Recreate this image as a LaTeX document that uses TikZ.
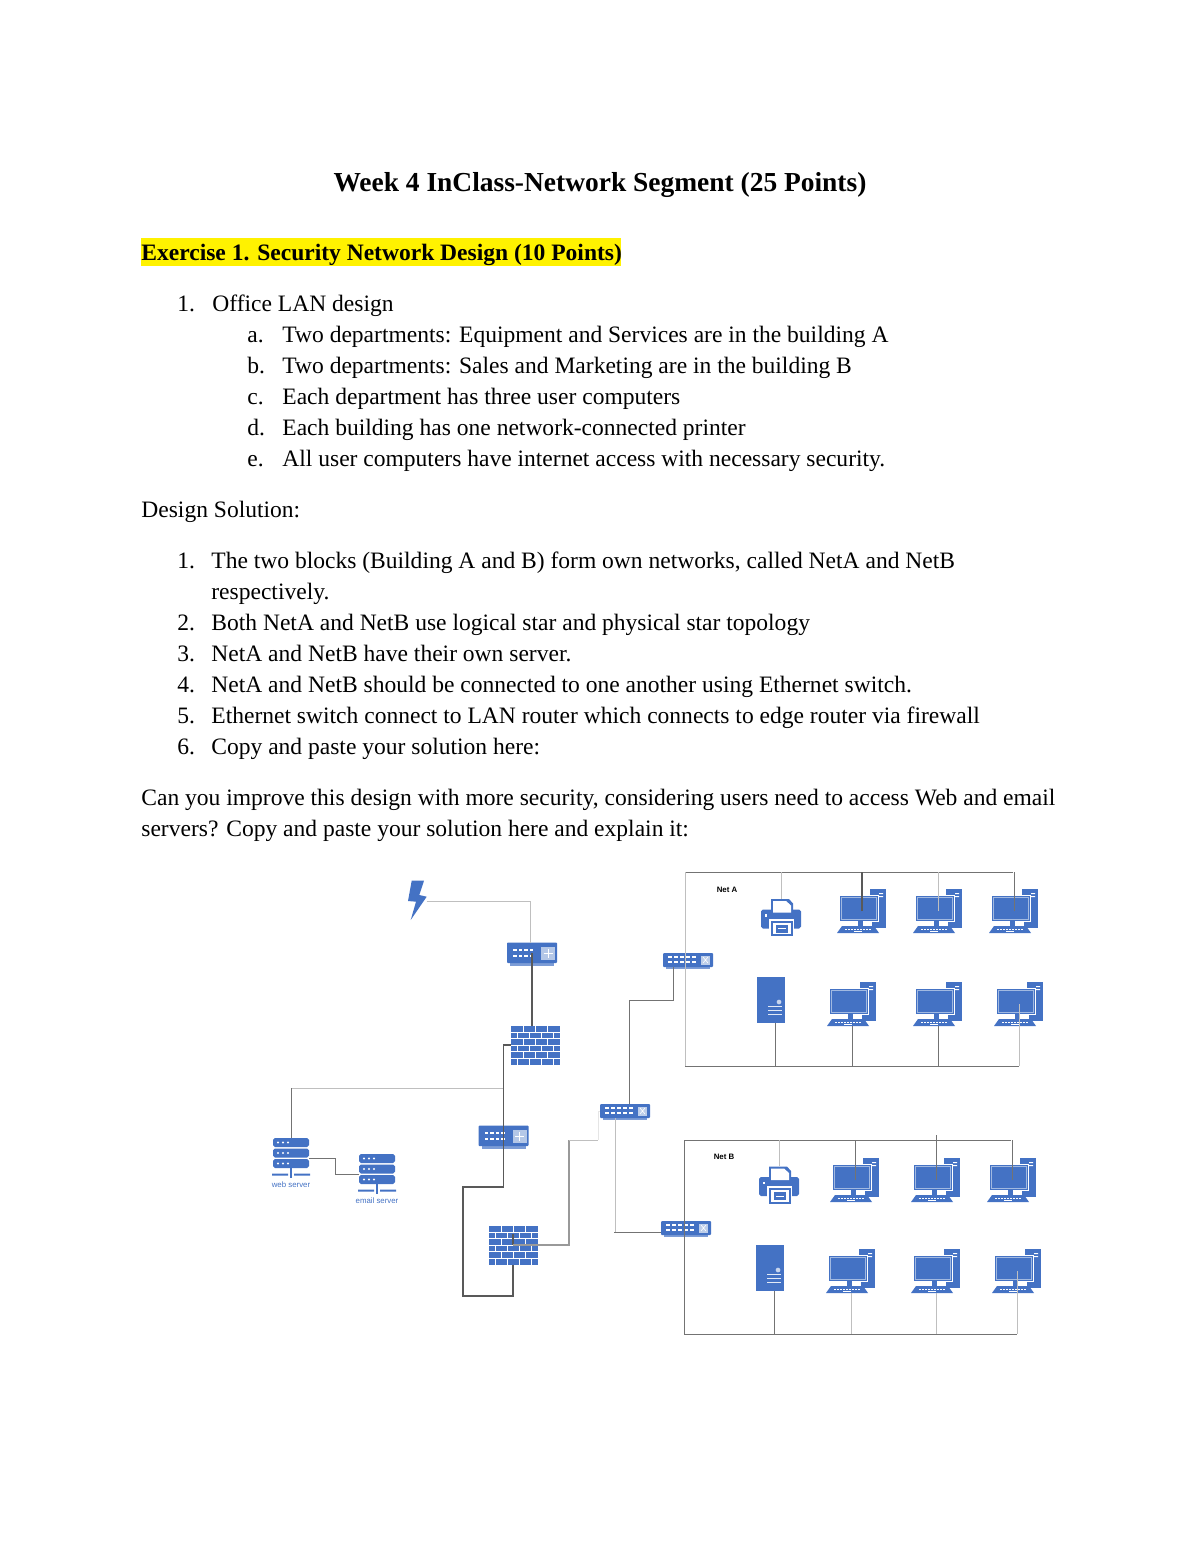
\documentclass[tikz,border=0pt]{standalone}
\usepackage{fontspec}
\setmainfont{Liberation Serif}
\setsansfont{Liberation Sans}
\definecolor{netblue}{HTML}{4472C4}
\tikzset{
  bodyline/.style={anchor=base west,inner sep=0pt,font=\fontsize{12}{14}\selectfont},
  tinylabel/.style={inner sep=0pt,font=\sffamily\fontsize{4}{5}\selectfont},
  wire/.style={draw=black!55,line width=.5pt},
  wirelight/.style={draw=black!25,line width=.5pt},
  wiredark/.style={draw=black!65,line width=.6pt},
  wirethick/.style={draw=black!40,line width=.9pt},
  iconbox/.style={inner sep=0pt,outer sep=0pt},
  pcicon/.pic={
    \node[iconbox,minimum width=25pt,minimum height=22.4pt] (-box) at (0,0) {};
    \fill[netblue] (8,-22) rectangle (24,17);
    \fill[white] (17,-18) rectangle (21,-17) (17,-15) rectangle (21,-14);
    \fill[netblue,draw=white,line width=.3pt] (-23,-16) rectangle (16,10);
    \draw[netblue!50!white,line width=.25pt] (-21,-14) rectangle (14,8);
    \fill[white] (-9,10.5) rectangle (10,15);
    \fill[netblue] (-4,10) rectangle (1,15);
    \fill[netblue] (-20,15) -- (12,15) -- (17,22) -- (-25,22) -- cycle;
    \foreach \x in {-17,-14,...,7}{\fill[white] (\x,18) rectangle (\x+2,19);}
    \fill[white] (-8,20) rectangle (0,20.7);
  },
  printericon/.pic={
    \node[iconbox,minimum width=20.4pt,minimum height=18.9pt] (-box) at (0,0) {};
    \fill[netblue,rounded corners=1pt] (-20,-8) rectangle (20,11);
    \fill[netblue] (-10,-18.5) -- (8,-18.5) -- (12,-14) -- (12,-6) -- (-10,-6) -- cycle;
    \fill[white] (-8,-16.5) -- (5,-16.5) -- (10,-12) -- (10,-5) -- (-8,-5) -- cycle;
    \fill[white] (-16.5,-3.5) rectangle (-14,-1);
    \fill[white] (-12,1) rectangle (13,18.5);
    \fill[netblue] (-10,3) rectangle (12,18.5);
    \fill[white] (-8,5) rectangle (10,16.5);
    \fill[netblue] (-5,7) rectangle (7,15);
    \fill[white] (-3,10.5) rectangle (5,11.5);
  },
  towericon/.pic={
    \node[iconbox,minimum width=14.3pt,minimum height=23.5pt] (-box) at (0,0) {};
    \fill[netblue] (-14,-23) rectangle (14,23);
    \fill[white!70!netblue] (8,2) circle (1.2pt);
    \foreach \y in {6,10,14}{\fill[white!85!netblue] (-3,\y) rectangle (11,\y+1);}
  },
  switchicon/.pic={
    \node[iconbox,minimum width=25.5pt,minimum height=7.4pt] (-box) at (0,0) {};
    \fill[netblue!70!white] (-22,7) rectangle (22,9);
    \fill[netblue,rounded corners=.5pt] (-25,-7) rectangle (25,7);
    \foreach \x in {-20,-14,...,4}{
      \fill[white] (\x,-4) rectangle (\x+3.6,-2);
      \fill[white] (\x,1) rectangle (\x+3.6,3);
    }
    \fill[netblue!35!white] (13,-4.5) rectangle (22,4.5);
    \draw[white,line width=.3pt] (15,-3) -- (20,3) (15,3) -- (20,-3);
  },
  routericon/.pic={
    \node[iconbox,minimum width=25.5pt,minimum height=10.7pt] (-box) at (0,0) {};
    \fill[netblue!70!white] (-22,10) rectangle (22,12.5);
    \fill[netblue,rounded corners=.5pt] (-25,-10.5) rectangle (25,10);
    \foreach \x in {-19,-13.5,-8,-2.5}{
      \fill[white] (\x,-4) rectangle (\x+3.6,-2);
      \fill[white] (\x,1.5) rectangle (\x+3.6,3.5);
    }
    \fill[netblue!40!white] (9,-6.5) rectangle (23,6.5);
    \draw[white,line width=.4pt] (16,-4.5) -- (16,4.5) (11.5,0) -- (20.5,0);
  },
  wallicon/.pic={
    \node[iconbox,minimum width=25pt,minimum height=19.9pt] (-box) at (0,0) {};
    \fill[netblue] (-24.5,-19.5) rectangle (24.5,19.5);
    \foreach \y in {-13,-6.5,0,6.5,13}{\draw[white,line width=.3pt] (-24.5,\y) -- (24.5,\y);}
    \foreach \y in {-19.5,-6.5,6.5}{
      \foreach \x in {-12,0,12}{\draw[white,line width=.3pt] (\x,\y) -- (\x,\y+6.5);}
    }
    \foreach \y in {-13,0,13}{
      \foreach \x in {-18,-6,6,18}{\draw[white,line width=.3pt] (\x,\y) -- (\x,\y+6.5);}
    }
  },
  rackicon/.pic={
    \node[iconbox,minimum width=18.4pt,minimum height=20.4pt] (-box) at (0,0) {};
    \foreach \y in {-20,-9.5,1}{
      \fill[netblue,rounded corners=1pt] (-18,\y) rectangle (18,\y+9);
      \foreach \x in {-13,-8,-3}{\fill[white] (\x,\y+4.5) circle (.55pt);}
    }
    \fill[netblue] (-1,10) rectangle (1,20);
    \fill[netblue] (-19,15.5) rectangle (-3,17.5) (3,15.5) rectangle (19,17.5);
  },
  bolticon/.pic={
    \node[iconbox,minimum width=9.7pt,minimum height=20pt] (-box) at (0,0) {};
    \fill[netblue] (-5.3,-20.3) -- (7,-20.3) -- (2.3,-6) -- (9.7,-4.3) -- (-6.3,19) -- (-1,.7) -- (-9,0) -- cycle;
  },
}
\begin{document}
\begin{tikzpicture}[x=.51pt,y=-.51pt]
\useasboundingbox (0,0) rectangle (1200,1553);
% page text
\node[inner sep=0pt,anchor=base,font=\bfseries\fontsize{14}{16}\selectfont] (title) at (600,192) {Week 4 InClass-Network Segment (25 Points)};
\fill[yellow] (141,238) rectangle (621,266);
\node[bodyline,font=\bfseries\fontsize{12}{14}\selectfont] (exercise) at (141,260) {Exercise 1. Security Network Design (10 Points)};
\node[bodyline] (numOffice) at (177,311) {1.};
\node[bodyline] (office) at (212,311) {Office LAN design};
\foreach \nm/\y/\txt in {a/342/{Two departments: Equipment and Services are in the building A},
    b/373/{Two departments: Sales and Marketing are in the building B},
    c/404/{Each department has three user computers},
    d/435/{Each building has one network-connected printer},
    e/466/{All user computers have internet access with necessary security.}}{
  \node[bodyline] (lab\nm) at (247,\y) {\nm.};
  \node[bodyline] (req\nm) at (282,\y) {\txt};
}
\node[bodyline] (design) at (141,517) {Design Solution:};
\foreach \nm/\y/\txt in {1/568/{The two blocks (Building A and B) form own networks, called NetA and NetB},
    2/630/{Both NetA and NetB use logical star and physical star topology},
    3/661/{NetA and NetB have their own server.},
    4/692/{NetA and NetB should be connected to one another using Ethernet switch.},
    5/723/{Ethernet switch connect to LAN router which connects to edge router via firewall},
    6/754/{Copy and paste your solution here:}}{
  \node[bodyline] (numSol\nm) at (177,\y) {\nm.};
  \node[bodyline] (sol\nm) at (211,\y) {\txt};
}
\node[bodyline] (solCont) at (211,599) {respectively.};
\node[bodyline] (improveA) at (141,805) {Can you improve this design with more security, considering users need to access Web and email};
\node[bodyline] (improveB) at (141,836) {servers? Copy and paste your solution here and explain it:};
% icons
\pic (bolt) at (417,901) {bolticon};
\pic (rtrTop) at (532,953) {routericon};
\pic (fwTop) at (535.5,1045) {wallicon};
\pic (rtrLow) at (503.5,1136) {routericon};
\pic (fwLow) at (513,1245) {wallicon};
\pic (web) at (291,1158) {rackicon};
\pic (mail) at (377,1174) {rackicon};
\node[tinylabel,text=netblue] (webLabel) at (291,1185) {web server};
\node[tinylabel,text=netblue] (mailLabel) at (377,1201) {email server};
\pic (swC) at (625,1111) {switchicon};
\pic (swA) at (688,960) {switchicon};
\pic (swB) at (686,1228) {switchicon};
\pic (prnA) at (781,917.5) {printericon};
\pic (prnB) at (779,1185) {printericon};
\pic (srvA) at (771,1000) {towericon};
\pic (srvB) at (770,1268) {towericon};
\foreach \pc/\x/\y in {pcA1/862/911,pcA2/938/911,pcA3/1014/911,pcA4/852/1004,pcA5/938/1004,pcA6/1019/1004,
    pcB1/855/1180,pcB2/936/1180,pcB3/1012/1180,pcB4/851/1271,pcB5/936/1271,pcB6/1017/1271}{
  \pic (\pc) at (\x,\y) {pcicon};
}
\node[tinylabel,font=\sffamily\bfseries\fontsize{4}{5}\selectfont] (labNetA) at (727,890) {Net A};
\node[tinylabel,font=\sffamily\bfseries\fontsize{4}{5}\selectfont] (labNetB) at (724,1157) {Net B};
% bends
\coordinate (tapWeb) at (503,1088);
\coordinate (bendLow) at (463,1187);
\coordinate (loopLow) at (463,1296);
\coordinate (midWeb) at (335,1158);
\coordinate (riseFw) at (569,1140);
\coordinate (tapSw) at (598,1140);
\coordinate (bendUp) at (650,1000);
\coordinate (aNW) at (685,872);
\coordinate (aNE) at (1013,872);
\coordinate (aSW) at (685,1066);
\coordinate (aSE) at (1019,1066);
\coordinate (bNW) at (684,1140);
\coordinate (bNE) at (1011,1140);
\coordinate (bSW) at (684,1334);
\coordinate (bSE) at (1017,1334);
% connectors, left side
\draw[wirelight] (bolt-box.east) -| ([xshift=-1pt]rtrTop-box.north);
\draw[wiredark] (rtrTop-box.center) -- (rtrTop-box.center |- fwTop-box.north);
\draw[wiredark] (fwTop-box.west) -| (rtrLow-box.center) |- (bendLow) -- (loopLow) -| (fwLow-box.south);
\draw[wirelight] (tapWeb) -- (tapWeb -| web-box.north);
\draw[wire] (tapWeb -| web-box.north) -- (web-box.north);
\draw[wire] (web-box.east) -- (midWeb) |- (mail-box.west);
\draw[wiredark] ([yshift=5.5pt]fwLow-box.center) -- (fwLow-box.center);
\draw[wirethick] (fwLow-box.center) -- (fwLow-box.east) -| (riseFw);
\draw[wirelight] (riseFw) -- (tapSw);
\draw[black!10,line width=.4pt] (tapSw) |- (swC-box.west);
\draw[wire] ([xshift=2.5pt]swC-box.north) |- (bendUp) -| ([xshift=-7.6pt]swA-box.south);
\draw[wirelight] ([xshift=-5.1pt]swC-box.south) |- ([yshift=-2.5pt]swB-box.west);
\draw[wire] ([yshift=-2.5pt]swB-box.west) -- +(-24pt,0);
% net A
\draw[wire] (aNE) -- (aNW);
\draw[wirelight] (aNW) -- (aSW);
\draw[wire] (aSW) -- (aSE);
\draw[wirelight] (prnA-box.north) -- (prnA-box.north |- aNW);
\foreach \pc/\wr in {pcA1/wiredark,pcA2/wirelight,pcA3/wire}{
  \draw[\wr] (\pc-box.center) -- (\pc-box.center |- aNW);
}
\draw[wire] ([xshift=2.5pt]srvA-box.south) -- ([xshift=2.5pt]srvA-box.south |- aSW);
\foreach \pc/\wr in {pcA4/wire,pcA5/wire}{
  \draw[\wr] (\pc-box.south) -- (\pc-box.south |- aSW);
}
\draw[wirelight] (pcA6-box.center) -- (pcA6-box.center |- aSW);
% net B
\draw[wire] (bNE) -- (bNW) -- (bSW) -- (bSE);
\draw[wirelight] (prnB-box.north) -- (prnB-box.north |- bNW);
\foreach \pc in {pcB1,pcB3}{
  \draw[wire] (\pc-box.center) -- (\pc-box.center |- bNW);
}
\draw[wire] (pcB2-box.center) -- ([yshift=2.5pt]pcB2-box.center |- bNW);
\draw[wire] ([xshift=2.5pt]srvB-box.south) -- ([xshift=2.5pt]srvB-box.south |- bSW);
\foreach \pc in {pcB4,pcB5}{
  \draw[wirelight] (\pc-box.south) -- (\pc-box.south |- bSW);
}
\draw[wirelight] (pcB6-box.center) -- (pcB6-box.center |- bSW);
\end{tikzpicture}
\end{document}
